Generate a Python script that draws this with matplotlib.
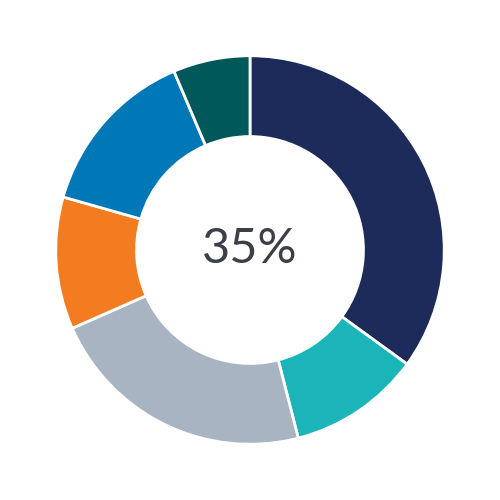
import matplotlib.pyplot as plt

# slices clockwise from the top
labels = ['A', 'B', 'C', 'D', 'E', 'F']
values = [35, 11, 22.4, 11, 14.2, 6.4]
colors = ['#1c2b5a', '#1bb5b9', '#a9b4c2', '#f47c20', '#0077b6', '#00585a']
center_text = '35%'

fig = plt.figure(figsize=(5, 5), dpi=100)
ax = fig.add_axes([0, 0, 1, 1])
ax.pie(values, colors=colors, startangle=90, counterclock=False,
       radius=1.01, wedgeprops=dict(width=0.42, edgecolor='white', linewidth=2))
ax.text(0, 0.005, center_text, ha='center', va='center', fontsize=35,
        color='#3b3f47', family=['Lato', 'DejaVu Sans'], fontweight='normal')
ax.set_xlim(-1.3, 1.3)
ax.set_ylim(-1.3, 1.3)
ax.set_aspect('equal')
ax.axis('off')
fig.savefig('out.png', dpi=100, facecolor='white')
